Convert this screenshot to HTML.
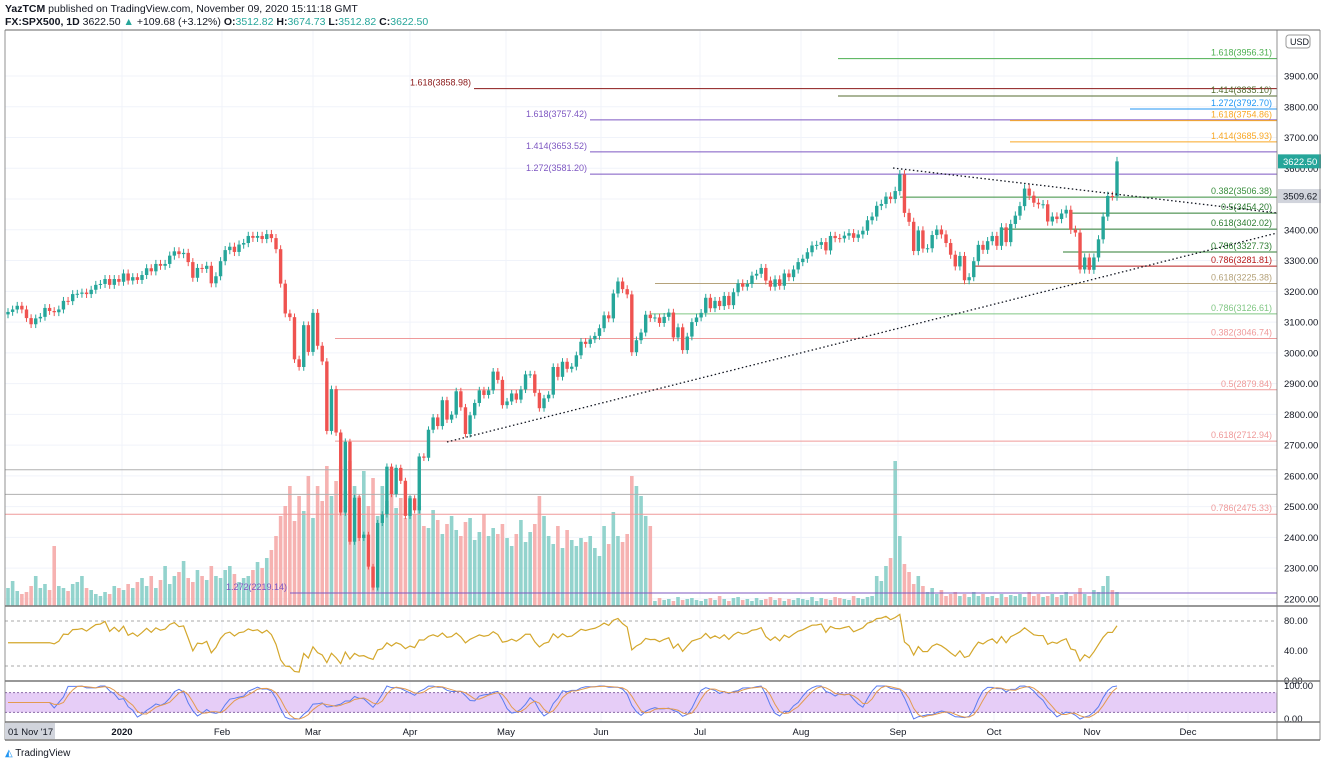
<!DOCTYPE html>
<html><head><meta charset="utf-8"><style>
body{margin:0;background:#fff;font-family:"Liberation Sans",sans-serif;}
#wrap{position:relative;width:1323px;height:768px;overflow:hidden}
.hdr{position:absolute;left:5px;font-size:10.5px;color:#131722;white-space:nowrap}
.g{color:#26a69a}
</style></head><body>
<div id="wrap">
<div class="hdr" style="top:3px"><b>YazTCM</b> published on TradingView.com, November 09, 2020 15:11:18 GMT</div>
<div class="hdr" style="top:16px"><b>FX:SPX500, 1D</b> 3622.50 <span class="g">▲</span> +109.68 (+3.12%) <b>O:</b><span class="g">3512.82</span> <b>H:</b><span class="g">3674.73</span> <b>L:</b><span class="g">3512.82</span> <b>C:</b><span class="g">3622.50</span></div>
<svg id="svg" width="1323" height="768" style="position:absolute;left:0;top:0"></svg>
<div style="position:absolute;left:5px;top:748px;font-size:10px;color:#131722"><span style="color:#2196f3">◭</span> TradingView</div>
</div>
<script>
const closes=[3133,3141,3153,3141,
3113,3093,3112,3117,3146,3136,3132,3141,3169,3168,3191,3192,3196,3191,3205,3221,3224,3240,3221,3240,3231,
3258,3235,3246,3237,3253,3275,3265,3289,3283,3289,3316,3330,3321,3325,3295,3244,3276,3273,3283,3226,
3249,3298,3334,3345,3328,3352,3357,3380,3374,3380,3370,3386,3373,3337,3225,3128,3116,2979,2954,
3090,3003,3130,3023,2972,2746,2882,2741,2481,2711,2386,2529,2398,2409,2305,2237,2447,2475,2630,2541,2626,2584,
2470,2527,2488,2663,2659,2750,2790,2762,2846,2783,2799,2875,2823,2736,2797,2837,2878,2863,2878,2939,2912,
2830,2842,2868,2848,2881,2930,2930,2870,2820,2852,2864,2954,2922,2971,2948,2955,2992,3036,3029,3044,
3055,3080,3122,3112,3193,3232,3207,3190,3002,3041,3066,3124,3113,3115,3097,3117,3131,3050,3083,3009,3053,3100,
3115,3130,3179,3145,3169,3152,3185,3155,3197,3226,3215,3224,3251,3257,3276,3235,3215,3239,3218,3258,3246,3271,
3295,3306,3327,3349,3351,3360,3333,3380,3373,3372,3381,3389,3374,3385,3397,3431,3443,3478,3484,3508,3500,
3526,3580,3455,3426,3331,3398,3339,3340,3383,3401,3385,3357,3319,3281,3315,3236,3246,3298,3351,3335,3363,
3380,3348,3408,3360,3419,3446,3477,3534,3511,3488,3483,3483,3427,3443,3435,3453,3465,3400,3391,3271,3310,3270,
3310,3369,3443,3510,3509,3622.5];
const volumes=[18,25,15,12,
14,20,30,18,22,16,60,20,18,15,22,24,30,18,16,12,10,14,12,20,18,
16,22,18,24,28,20,30,18,26,40,22,30,34,45,28,24,36,30,26,40,
30,28,36,40,32,24,28,30,36,44,38,48,56,70,90,100,120,85,110,
95,130,88,120,105,140,110,125,140,115,145,120,110,135,100,128,90,120,105,115,98,108,
88,110,92,100,80,78,96,86,72,82,90,76,70,84,88,66,74,92,70,78,72,
82,68,60,72,86,64,74,82,110,90,70,62,80,58,76,66,60,68,64,70,
58,50,80,62,94,70,64,72,130,120,110,90,80,5,8,6,7,5,9,6,7,8,
6,5,7,8,6,10,7,5,8,9,6,7,5,8,6,7,9,6,8,5,7,6,
8,7,6,9,5,8,7,6,9,8,7,6,10,8,7,9,10,30,25,40,48,
145,70,42,34,22,30,20,14,18,12,16,10,12,14,10,12,9,14,10,12,9,
10,8,12,9,11,10,12,9,14,10,12,9,10,12,9,11,14,10,12,18,12,10,
16,14,20,30,16,14];
const priceTicks=[2200,2300,2400,2500,2600,2700,2800,2900,3000,3100,3200,3300,3400,3500,3600,3700,3800,3900];
const monthLabels=["2020","Feb","Mar","Apr","May","Jun","Jul","Aug","Sep","Oct","Nov","Dec"];
const monthX=[122,222,313,410,506,601,700,801,898,994,1092,1188];
const fibValues=[3956.31,3858.98,3835.10,3792.70,3757.42,3754.86,3685.93,3653.52,3581.20,3506.38,3454.20,3402.02,3327.73,3281.81,3225.38,3126.61,3046.74,2879.84,2712.94,2475.33,2219.14];
const fibLabels=["1.618(3956.31)","1.618(3858.98)","1.414(3835.10)","1.272(3792.70)","1.618(3757.42)","1.618(3754.86)","1.414(3685.93)","1.414(3653.52)","1.272(3581.20)","0.382(3506.38)","0.5(3454.20)","0.618(3402.02)","0.786(3327.73)","0.786(3281.81)","0.618(3225.38)","0.786(3126.61)","0.382(3046.74)","0.5(2879.84)","0.618(2712.94)","0.786(2475.33)","1.272(2219.14)"];
const fibColors=["#4caf50","#8b1a1a","#556b2f","#2196f3","#7e57c2","#f9a825","#f9a825","#7e57c2","#7e57c2","#388e3c","#2e7d32","#2e7d32","#2e7d32","#b71c1c","#b5a27a","#81c784","#ef9a9a","#ef9a9a","#ef9a9a","#ef9a9a","#7e57c2"];
const fibStart=[838,474,838,1130,590,1010,1010,590,590,900,1070,1000,1063,975,655,650,335,335,335,5,290];
const fibLeftLabel=[0,1,0,0,1,0,0,1,1,0,0,0,0,0,0,0,0,0,0,0,1];

const svg=document.getElementById('svg');const NS='http://www.w3.org/2000/svg';
function mk(t,a,parent){const e=document.createElementNS(NS,t);for(const k in a)e.setAttribute(k,a[k]);(parent||svg).appendChild(e);return e;}
const L=5,R=1277,T=30,B=606;
const yP=p=>76+(3900-p)*0.3076;
const N=closes.length,x0=8,x1=1117,step=(x1-x0)/(N-1);
const xI=i=>x0+i*step;
monthX.forEach(x=>{const l=mk('line',{x1:x,x2:x,y1:T,y2:722,stroke:'#f0f3fa'});});
priceTicks.forEach(p=>{const l=mk('line',{x1:L,x2:R,y1:yP(p),y2:yP(p),stroke:'#f0f3fa'});});
const vmax=Math.max(...volumes);
volumes.forEach((v,i)=>{const up=i==0||closes[i]>=closes[i-1];const h=v/vmax*145;
const r=mk('rect',{x:xI(i)-1.8,y:B-h,width:3.6,height:h,fill:up?'#80cbc4':'#f4a5a3','fill-opacity':0.85});
});
[2620,2540].forEach(p=>{const l=mk('line',{x1:L,x2:R,y1:yP(p),y2:yP(p),stroke:'#b0b0b0'});});
fibValues.forEach((v,i)=>{const y=yP(v);const l=mk('line',{x1:fibStart[i],x2:R,y1:y,y2:y,stroke:fibColors[i],'stroke-width':1});

const left=fibLeftLabel[i];const t=mk('text',{x:left?fibStart[i]-3:1272,y:y-3,'text-anchor':'end','font-size':9,fill:fibColors[i]});
t.textContent=fibLabels[i];});
closes.forEach((c,i)=>{const o=i==0?c-8:closes[i-1];const up=c>=o;const col=up?'#26a69a':'#ef5350';
const hi=Math.max(o,c)+c*0.004,lo=Math.min(o,c)-c*0.004;const x=xI(i);
const w=mk('line',{x1:x,x2:x,y1:yP(hi),y2:yP(lo),stroke:col});
const yt=yP(Math.max(o,c)),yb=yP(Math.min(o,c));
const r=mk('rect',{x:x-1.7,y:yt,width:3.4,height:Math.max(1,yb-yt),fill:col});});
[[893,168,1277,213],[447,442,1277,233]].forEach(a=>{const l=mk('line',{x1:a[0],y1:a[1],x2:a[2],y2:a[3],stroke:'#131722','stroke-width':1.3,'stroke-dasharray':'1.5,2.5'});});
priceTicks.forEach(p=>{const t=mk('text',{x:1284,y:yP(p)+3.5,'font-size':9.5,fill:'#131722'});t.textContent=p.toFixed(2);});
let r1=mk('rect',{x:1286,y:35,width:24,height:13,rx:3,fill:'#fff',stroke:'#999'});
let t1=mk('text',{x:1290,y:45,'font-size':9,fill:'#131722'});t1.textContent='USD';
[[3622.5,'#26a69a','#fff','3622.50'],[3509.62,'#d1d4dc','#131722','3509.62']].forEach(a=>{const y=yP(a[0]);const r=mk('rect',{x:1278,y:y-7,width:43,height:14,fill:a[1]});
const t=mk('text',{x:1283,y:y+3.5,'font-size':9.5,fill:a[2]});t.textContent=a[3];});
function rsi(c,n){const out=[];let g=0,l=0;for(let i=1;i<=n;i++){const d=c[i]-c[i-1];g+=Math.max(d,0)/n;l+=Math.max(-d,0)/n;}
for(let i=0;i<c.length;i++){if(i>n){const d=c[i]-c[i-1];g=(g*(n-1)+Math.max(d,0))/n;l=(l*(n-1)+Math.max(-d,0))/n;}out[i]=l==0?100:100-100/(1+g/l);}return out;}
const R14=rsi(closes,9);
const yR=v=>681-v*0.75;
[80,20].forEach(v=>{const l=mk('line',{x1:L,x2:R,y1:yR(v),y2:yR(v),stroke:'#aaa','stroke-dasharray':'3,3'});});
let p=mk('polyline',{points:R14.map((v,i)=>xI(i)+','+yR(v)).join(' '),fill:'none',stroke:'#d4a72c','stroke-width':1.2});
[[80,'80.00'],[40,'40.00'],[0,'0.00']].forEach(a=>{const t=mk('text',{x:1284,y:yR(a[0])+3,'font-size':9.5,fill:'#131722'});t.textContent=a[1];});
const yS=v=>719-v*0.33;
let band=mk('rect',{x:L,y:yS(80),width:R-L,height:yS(20)-yS(80),fill:'#e6cdf7'});
[80,20].forEach(v=>{const l=mk('line',{x1:L,x2:R,y1:yS(v),y2:yS(v),stroke:'#8a6aa8','stroke-dasharray':'2,2'});});
const st=R14.map((v,i)=>{const w=R14.slice(Math.max(0,i-13),i+1);const mn=Math.min(...w),mx=Math.max(...w);return mx==mn?50:(v-mn)/(mx-mn)*100;});
const sma=(a,n)=>a.map((v,i)=>{const w=a.slice(Math.max(0,i-n+1),i+1);return w.reduce((s,x)=>s+x,0)/w.length;});
const K=sma(st,3),D=sma(K,3);
[[K,'#5b7cf0','stoch-k-line'],[D,'#e39a50','stoch-d-line']].forEach(a=>{const q=mk('polyline',{points:a[0].map((v,i)=>xI(i)+','+yS(v)).join(' '),fill:'none',stroke:a[1],'stroke-width':1});});
[[100,'100.00'],[0,'0.00']].forEach(a=>{const t=mk('text',{x:1284,y:yS(a[0])+3,'font-size':9.5,fill:'#131722'});t.textContent=a[1];});
[[L,T,1320,T],[L,606,1320,606],[L,681,1320,681],[L,722,1320,722],[L,740,1320,740],[R,T,R,740],[L,T,L,740],[1320,T,1320,740]].forEach(a=>{const l=mk('line',{x1:a[0],y1:a[1],x2:a[2],y2:a[3],stroke:a[1]==T&&a[3]==T?'#999':'#777','stroke-width':a[0]==a[2]?0.8:1.5});});
monthLabels.forEach((m,i)=>{const t=mk('text',{x:monthX[i],y:735,'font-size':9.5,'text-anchor':'middle',fill:'#131722','font-weight':m=='2020'?'bold':'normal'});t.textContent=m;});
let tb=mk('rect',{x:5,y:723,width:50,height:16,fill:'#d1d4dc'});
let tt=mk('text',{x:8,y:735,'font-size':9.5,fill:'#131722'});tt.textContent="01 Nov '17";
</script>
</body></html>
